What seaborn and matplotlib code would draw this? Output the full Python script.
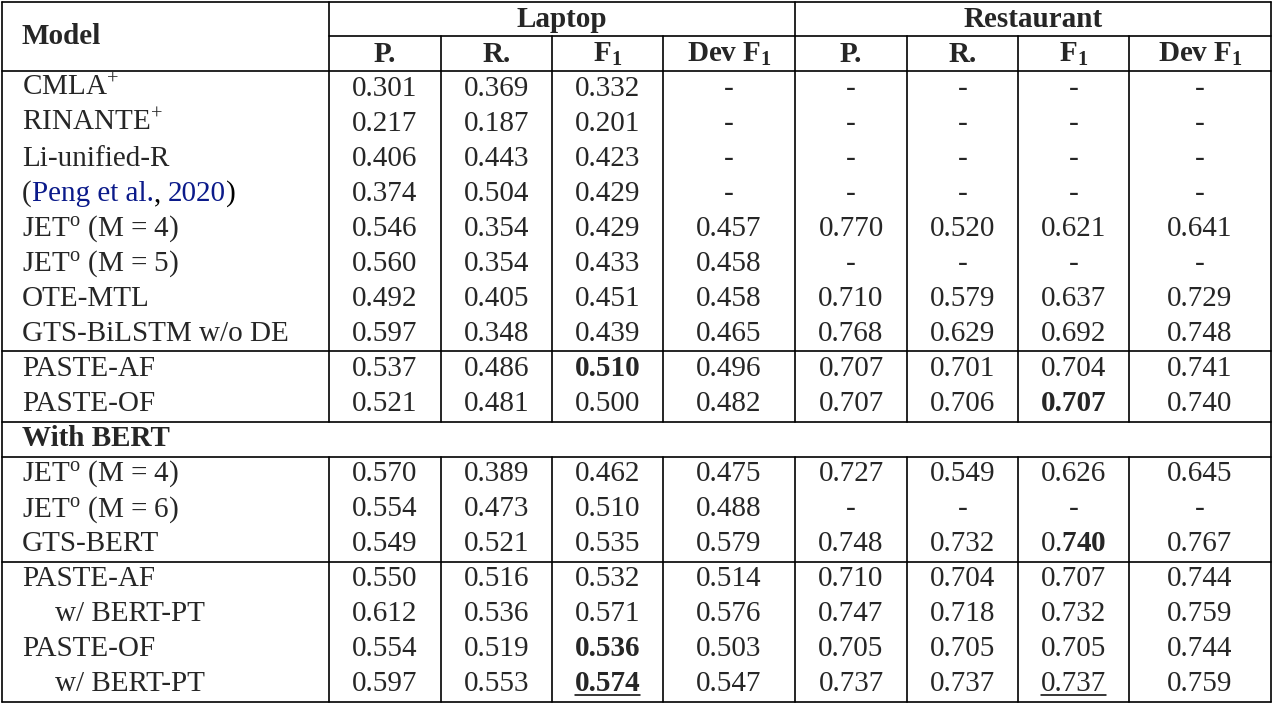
import matplotlib
matplotlib.use("Agg")
import matplotlib.pyplot as plt
import seaborn as sns

sns.set_style("white")
plt.rcParams['font.family'] = ['Liberation Serif', 'DejaVu Serif']
plt.rcParams['mathtext.fontset'] = 'custom'
plt.rcParams['mathtext.rm'] = 'Liberation Serif'
plt.rcParams['mathtext.bf'] = 'Liberation Serif:bold'
plt.rcParams['mathtext.it'] = 'Liberation Serif:italic'

# data
models = [r"CMLA$^{+}$", r"RINANTE$^{+}$", "Li-unified-R", "PENG",
          r"JET$^{\mathrm{o}}$ (M = 4)", r"JET$^{\mathrm{o}}$ (M = 5)", "OTE-MTL", "GTS-BiLSTM w/o DE",
          "PASTE-AF", "PASTE-OF",
          "With BERT",
          r"JET$^{\mathrm{o}}$ (M = 4)", r"JET$^{\mathrm{o}}$ (M = 6)", "GTS-BERT",
          "PASTE-AF", "w/ BERT-PT", "PASTE-OF", "w/ BERT-PT"]
laptop = [
    ["0.301", "0.369", "0.332", "-"],
    ["0.217", "0.187", "0.201", "-"],
    ["0.406", "0.443", "0.423", "-"],
    ["0.374", "0.504", "0.429", "-"],
    ["0.546", "0.354", "0.429", "0.457"],
    ["0.560", "0.354", "0.433", "0.458"],
    ["0.492", "0.405", "0.451", "0.458"],
    ["0.597", "0.348", "0.439", "0.465"],
    ["0.537", "0.486", "0.510", "0.496"],
    ["0.521", "0.481", "0.500", "0.482"],
    None,
    ["0.570", "0.389", "0.462", "0.475"],
    ["0.554", "0.473", "0.510", "0.488"],
    ["0.549", "0.521", "0.535", "0.579"],
    ["0.550", "0.516", "0.532", "0.514"],
    ["0.612", "0.536", "0.571", "0.576"],
    ["0.554", "0.519", "0.536", "0.503"],
    ["0.597", "0.553", "0.574", "0.547"],
]
restaurant = [
    ["-", "-", "-", "-"],
    ["-", "-", "-", "-"],
    ["-", "-", "-", "-"],
    ["-", "-", "-", "-"],
    ["0.770", "0.520", "0.621", "0.641"],
    ["-", "-", "-", "-"],
    ["0.710", "0.579", "0.637", "0.729"],
    ["0.768", "0.629", "0.692", "0.748"],
    ["0.707", "0.701", "0.704", "0.741"],
    ["0.707", "0.706", "0.707", "0.740"],
    None,
    ["0.727", "0.549", "0.626", "0.645"],
    ["-", "-", "-", "-"],
    ["0.748", "0.732", "0.740", "0.767"],
    ["0.710", "0.704", "0.707", "0.744"],
    ["0.747", "0.718", "0.732", "0.759"],
    ["0.705", "0.705", "0.705", "0.744"],
    ["0.737", "0.737", "0.737", "0.759"],
]
sub_cols = ["P.", "R.", r"F$_\mathbf{1}$", r"Dev F$_\mathbf{1}$"]
# (row, col) -> style ; col 0-3 laptop, 4-7 restaurant
bold_cells = {(8, 2), (9, 6), (16, 2), (17, 2)}
under_cells = {(17, 2), (17, 6)}
partial_bold = {(13, 6)}
indented = {15, 17}

fig = plt.figure(figsize=(12.74, 7.04), dpi=100)
ax = fig.add_axes([0, 0, 1, 1])
ax.set_xlim(0, 1274)
ax.set_ylim(704, 0)
ax.axis("off")

xs = [2, 329, 441, 552, 663, 795, 907, 1018, 1129, 1271]
fs = 21
lw = 1.2
top, h1, h2, bottom = 2, 36, 71, 702
rh = (bottom - h2) / len(models)
base = 8  # baseline offset below row centre

def hline(y, x0=xs[0], x1=xs[-1]):
    ax.plot([x0, x1], [y, y], color="black", lw=lw)

def vline(x, y0, y1):
    ax.plot([x, x], [y0, y1], color="black", lw=lw)

hline(top)
hline(h1, xs[1], xs[-1])
hline(h2)
for r in [8, 10, 11, 14]:
    hline(h2 + r * rh)
hline(bottom)

vline(xs[0], top, bottom)
vline(xs[-1], top, bottom)
for x in [xs[1], xs[5]]:
    vline(x, top, h2 + 10 * rh)
    vline(x, h2 + 11 * rh, bottom)
for x in xs[2:5] + xs[6:9]:
    vline(x, h1, h2 + 10 * rh)
    vline(x, h2 + 11 * rh, bottom)

# headers
ax.text(22, (top + h2) / 2 + base, "Model", fontsize=fs, fontweight="bold", va="baseline")
ax.text((xs[1] + xs[5]) / 2, (top + h1) / 2 + base, "Laptop", fontsize=fs, fontweight="bold", ha="center", va="baseline")
ax.text((xs[5] + xs[9]) / 2, (top + h1) / 2 + base, "Restaurant", fontsize=fs, fontweight="bold", ha="center", va="baseline")
for k in range(8):
    cx = (xs[k + 1] + xs[k + 2]) / 2
    ax.text(cx, (h1 + h2) / 2 + base, sub_cols[k % 4], fontsize=fs, fontweight="bold", ha="center", va="baseline")

# body
for r, name in enumerate(models):
    cy = h2 + (r + 0.5) * rh + base - 1
    if name == "PENG":
        t = ax.text(22, cy, "(", fontsize=fs, va="baseline")
        for piece, col in [("Peng et al.", "#0b1a8a"), (", ", "black"), ("2020", "#0b1a8a"), (")", "black")]:
            t = ax.annotate(piece, xy=(1, 0), xycoords=t, fontsize=fs, color=col, va="bottom")
    elif name == "With BERT":
        ax.text(22, cy, name, fontsize=fs, fontweight="bold", va="baseline")
    else:
        ax.text(55 if r in indented else 22, cy, name, fontsize=fs, va="baseline")
    if laptop[r] is None:
        continue
    vals = laptop[r] + restaurant[r]
    for k, v in enumerate(vals):
        cx = (xs[k + 1] + xs[k + 2]) / 2
        if (r, k) in partial_bold:
            s = "0.$\\mathbf{" + v[2:] + "}$"
            t = ax.text(cx, cy, s, fontsize=fs, ha="center", va="baseline")
        else:
            t = ax.text(cx, cy, v, fontsize=fs, ha="center", va="baseline",
                        fontweight="bold" if (r, k) in bold_cells else "normal")
        if (r, k) in under_cells:
            fig.canvas.draw()
            bb = t.get_window_extent().transformed(ax.transData.inverted())
            ax.plot([bb.x0, bb.x1], [cy + 4, cy + 4], color="black", lw=1.1)

fig.savefig("out.png", dpi=100)
